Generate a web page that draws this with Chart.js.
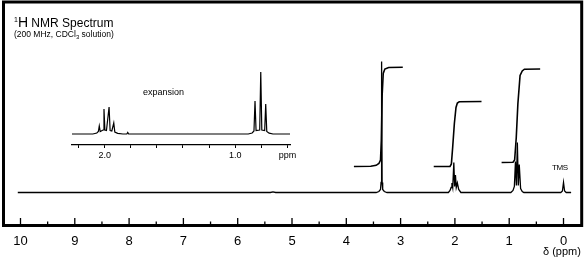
<!DOCTYPE html>
<html>
<head>
<meta charset="utf-8">
<script src="https://cdn.jsdelivr.net/npm/chart.js@4/dist/chart.umd.min.js"></script>
<style>
  body { margin: 0; background: #fff; }
  #wrap { position: relative; width: 587px; height: 265px; font-family: "Liberation Sans", Arial, sans-serif; color: #000; }
  #main { position: absolute; left: 0; top: 0; }
  #inset { position: absolute; left: 60px; top: 60px; }
  .lbl { position: absolute; white-space: nowrap; line-height: 1; }
</style>
</head>
<body>
<div id="wrap">
  <canvas id="main" width="587" height="265"></canvas>
  <canvas id="inset" width="245" height="105"></canvas>
  <div class="lbl" style="left:14px; top:14px;"><sup style="font-size:7px; vertical-align:5px;">1</sup><span style="font-size:14px;">H</span><span style="font-size:12px;"> NMR Spectrum</span></div>
  <div class="lbl" style="left:14px; top:30px; font-size:8.5px;">(200 MHz, CDCl<sub style="font-size:6px; vertical-align:-2px;">3</sub> solution)</div>
  <div class="lbl" style="left:143px; top:88px; font-size:9px;">expansion</div>
  <div class="lbl" style="left:552px; top:164px; font-size:8px; letter-spacing:-0.4px;">TMS</div>
  <div class="lbl" style="left:543px; top:246px; font-size:11px;">δ (ppm)</div>
</div>
<script>
Chart.defaults.font.family = '"Liberation Sans", Arial, sans-serif';
Chart.defaults.color = '#000';

// main spectrum: [ppm, height above baseline]
const spectrum = [
  [10.05, 0], [5.40, 0], [5.35, 0.7], [5.30, 0],
  [3.45, 0], [3.40, 1], [3.37, 3], [3.36, 10], [3.35, 131], [3.34, 10], [3.33, 3], [3.30, 1], [3.25, 0],
  [2.12, 0], [2.09, 2], [2.07, 5], [2.055, 9.5], [2.04, 5], [2.02, 30], [2.005, 6], [1.99, 17.5], [1.975, 5], [1.955, 9.5], [1.93, 3], [1.89, 0],
  [0.97, 0], [0.93, 2], [0.905, 6], [0.885, 31], [0.8675, 7], [0.85, 50], [0.8325, 7], [0.815, 28], [0.79, 4], [0.76, 1], [0.73, 0],
  [0.05, 0], [0.02, 1.5], [0.0, 10], [-0.02, 1.5], [-0.05, 0],
  [-0.14, 0]
];

// integration traces
const integral1 = [[3.86, 26], [3.55, 26.3], [3.45, 27.2], [3.40, 29], [3.37, 32.5], [3.355, 52], [3.34, 97], [3.32, 119], [3.29, 123.5], [3.22, 125], [2.96, 125.2]];
const integral2 = [[2.39, 26], [2.09, 26], [2.065, 28.5], [2.04, 46], [2.01, 69], [1.98, 85], [1.955, 89.5], [1.92, 90.7], [1.51, 91]];
const integral3 = [[1.14, 30], [0.93, 30.3], [0.90, 32.5], [0.87, 55], [0.84, 89], [0.80, 117], [0.76, 121.5], [0.72, 123.3], [0.43, 123.5]];

// expansion (inset) spectrum
const expansion = [
  [2.25, 0], [2.09, 0], [2.06, 1], [2.048, 2.5], [2.041, 8], [2.034, 2.5], [2.012, 4], [2.005, 25], [1.998, 4], [1.986, 3.5], [1.966, 27], [1.958, 3.5],
  [1.945, 3], [1.930, 11], [1.922, 2], [1.90, 0.6], [1.86, 0], [1.83, 0], [1.823, 1.5], [1.816, 0],
  [0.90, 0], [0.87, 1], [0.856, 3], [0.848, 33], [0.84, 3.5], [0.812, 4], [0.804, 62], [0.796, 4], [0.774, 3.5], [0.766, 30], [0.758, 2.5], [0.74, 0.8], [0.71, 0],
  [0.58, 0]
];

const xTicks = [0, 1, 2, 3, 4, 5, 6, 7, 8, 9, 10];
const xMinorTicks = [0.5, 1.5, 2.5, 3.5, 4.5, 5.5, 6.5, 7.5, 8.5, 9.5];
const insetTicks = [0.6, 0.8, 1.0, 1.2, 1.4, 1.6, 1.8, 2.0, 2.2];
const insetLabels = { '0.6': 'ppm', '1': '1.0', '2': '2.0' };

const pts = arr => arr.map(([x, y]) => ({ x, y }));

// frame + inward tick marks on the bottom edge
const frame = {
  id: 'frame',
  afterDraw(chart) {
    const { ctx, chartArea: a, scales: { x } } = chart;
    ctx.save();
    ctx.strokeStyle = '#000';
    ctx.lineWidth = 1.3;
    ctx.beginPath();
    xTicks.forEach(v => { const p = x.getPixelForValue(v); ctx.moveTo(p, a.bottom); ctx.lineTo(p, a.bottom - 7.5); });
    xMinorTicks.forEach(v => { const p = x.getPixelForValue(v); ctx.moveTo(p, a.bottom); ctx.lineTo(p, a.bottom - 4); });
    ctx.stroke();
    ctx.lineWidth = 3;
    ctx.strokeRect(a.left, a.top, a.right - a.left, a.bottom - a.top);
    ctx.restore();
  }
};

new Chart(document.getElementById('main'), {
  type: 'line',
  data: {
    datasets: [
      { data: pts(spectrum), borderColor: '#000', borderWidth: 1.3 },
      { data: pts(integral1), borderColor: '#000', borderWidth: 1.6 },
      { data: pts(integral2), borderColor: '#000', borderWidth: 1.6 },
      { data: pts(integral3), borderColor: '#000', borderWidth: 1.6 }
    ]
  },
  options: {
    responsive: false,
    animation: false,
    layout: { padding: { left: 3.5, top: 2, right: 5.3, bottom: 0 } },
    plugins: { legend: { display: false }, tooltip: { enabled: false } },
    elements: { point: { radius: 0 }, line: { tension: 0 } },
    scales: {
      x: {
        type: 'linear', reverse: true, min: -0.335, max: 10.313,
        afterBuildTicks: s => { s.ticks = xTicks.map(v => ({ value: v })); },
        afterFit: s => { s.height = 39.5; },
        grid: { display: false, drawTicks: false },
        border: { display: false },
        ticks: { padding: 8, autoSkip: false, maxRotation: 0, font: { size: 13 }, callback: v => String(v) }
      },
      y: { display: false, min: -33, max: 190.5 }
    }
  },
  plugins: [frame]
});

new Chart(document.getElementById('inset'), {
  type: 'line',
  data: { datasets: [{ data: pts(expansion), borderColor: '#000', borderWidth: 1.2 }] },
  options: {
    responsive: false,
    animation: false,
    layout: { padding: { left: 12, top: 5, right: 15, bottom: 0 } },
    plugins: { legend: { display: false }, tooltip: { enabled: false } },
    elements: { point: { radius: 0 }, line: { tension: 0 } },
    scales: {
      x: {
        type: 'linear', reverse: true, min: 0.58, max: 2.25,
        afterBuildTicks: s => { s.ticks = insetTicks.map(v => ({ value: v })); },
        afterFit: s => { s.height = 20; },
        grid: { display: true, drawOnChartArea: false, drawTicks: true, tickLength: 3, color: '#000', lineWidth: 1 },
        border: { display: true, color: '#000', width: 1.2 },
        ticks: { padding: 2, autoSkip: false, maxRotation: 0, font: { size: 9 },
          callback: v => insetLabels[String(Math.round(v * 10) / 10)] || '' }
      },
      y: { display: false, min: -11, max: 69 }
    }
  }
});
</script>
</body>
</html>
